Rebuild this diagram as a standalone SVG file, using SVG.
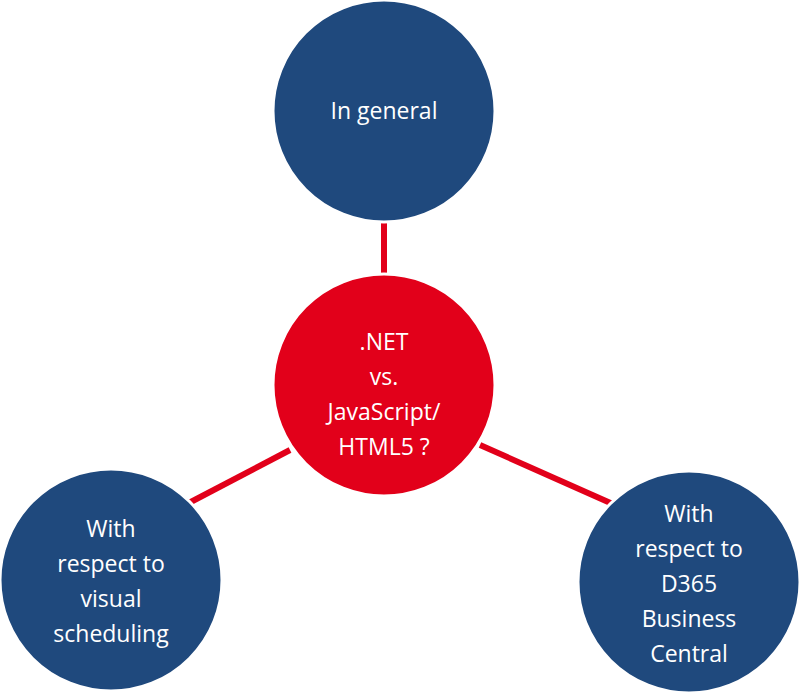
<svg xmlns="http://www.w3.org/2000/svg" width="800" height="693" viewBox="0 0 800 693">
<style>
.b{fill:#1f497d;stroke:#fff;stroke-width:3}
.r{fill:#e2001a;stroke:#fff;stroke-width:3}
text{font-family:"Open Sans","Liberation Sans",sans-serif;font-size:23px;fill:#fff;text-anchor:middle}
line{stroke:#e2001a;stroke-width:6}
</style>
<rect width="800" height="693" fill="#fff"/>
<g id="connectors">
<line x1="384" y1="220" x2="384" y2="285"/>
<line x1="290" y1="450" x2="185" y2="505"/>
<line x1="480" y1="445" x2="615" y2="505"/>
</g>
<g id="general"><circle class="b" cx="384" cy="111" r="111"/><text x="384" y="119">In general</text></g>
<g id="center"><circle class="r" cx="384" cy="385" r="111"/><text x="384" y="350">.NET</text><text x="384" y="385">vs.</text><text x="384" y="420">JavaScript/</text><text x="384" y="455">HTML5 ?</text></g>
<g id="visual"><circle class="b" cx="111" cy="580" r="111"/><text x="111" y="537">With</text><text x="111" y="572">respect to</text><text x="111" y="607">visual</text><text x="111" y="642">scheduling</text></g>
<g id="d365"><circle class="b" cx="689" cy="582" r="111"/><text x="689" y="522">With</text><text x="689" y="557">respect to</text><text x="689" y="592">D365</text><text x="689" y="627">Business</text><text x="689" y="662">Central</text></g>
</svg>
